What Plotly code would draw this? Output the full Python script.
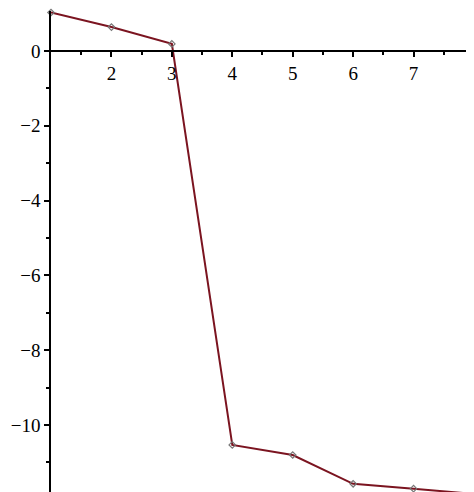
import plotly.graph_objects as go

x_vals = [1, 2, 3, 4, 5, 6, 7, 8]
y_vals = [1.03, 0.64, 0.19, -10.53, -10.8, -11.57, -11.7, -11.84]

y_min, y_max = -11.87, 1.07

fig = go.Figure()
fig.add_trace(go.Scatter(
    x=x_vals, y=y_vals, mode="lines+markers",
    line=dict(color="#7b1420", width=2),
    marker=dict(symbol="diamond-open", size=5, color="#777777", line=dict(width=1.2)),
    showlegend=False,
    cliponaxis=False,
))

axis_font = dict(family="Liberation Serif", size=19, color="black")

fig.update_layout(
    width=474, height=492,
    margin=dict(l=38, r=4, t=3, b=5),
    paper_bgcolor="white", plot_bgcolor="white",
    xaxis=dict(
        range=[1, 8.05], tickvals=[2, 3, 4, 5, 6, 7, 8],
        showgrid=False, zeroline=False, showline=True, linecolor="black", linewidth=1.5,
        ticks="outside", ticklen=5, tickwidth=1.5, tickcolor="black",
        minor=dict(tickvals=[1.5, 2.5, 3.5, 4.5, 5.5, 6.5, 7.5], ticks="outside", ticklen=3, tickcolor="black"),
        anchor="free", position=(0 - y_min) / (y_max - y_min),
        tickfont=axis_font,
    ),
    yaxis=dict(
        range=[y_min, y_max], tickvals=[0, -2, -4, -6, -8, -10],
        ticktext=["0", "\u22122", "\u22124", "\u22126", "\u22128", "\u221210"],
        showgrid=False, zeroline=False, showline=True, linecolor="black", linewidth=1.5,
        ticks="outside", ticklen=5, tickwidth=1.5, tickcolor="black",
        minor=dict(tickvals=[-1, -3, -5, -7, -9, -11], ticks="outside", ticklen=3, tickcolor="black"),
        tickfont=axis_font,
    ),
)

fig.write_html("out.html")
